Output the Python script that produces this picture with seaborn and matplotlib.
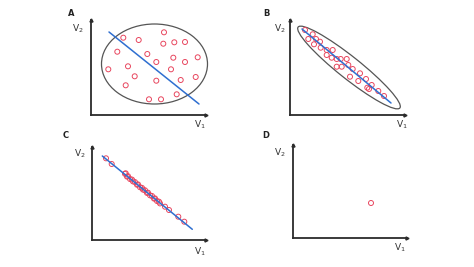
import matplotlib
matplotlib.use("Agg")
import matplotlib.pyplot as plt
from matplotlib.patches import Ellipse
import seaborn as sns

sns.set_style("white")
plt.rcParams['font.family'] = ['DejaVu Sans']

# ---------------- data (pixel-like units relative to each panel origin) ----------------
panel_labels = ["A", "B", "C", "D"]
x_label = "V$_1$"
y_label = "V$_2$"

a_x = [32.3, 47.7, 73, 72.3, 83.3, 94, 26.3, 56.3, 82.3, 106.7, 65.3, 94, 17.3, 37, 80,
       43.7, 65.3, 89.7, 104.7, 34.7, 85.7, 58, 70]
a_y = [77.3, 75, 82.7, 71.3, 72.7, 73, 63.3, 61, 57.3, 57.7, 53, 53, 45.7, 48.7, 45.7,
       38.7, 34.3, 35, 38, 29.7, 20.7, 15.7, 15.7]
a_line_x = [18, 108]
a_line_y = [83, 11]
a_ellipse = [63.5, 51, 106, 80, 0]          # cx, cy, width, height, angle

b_x = [15, 22.7, 18.3, 26, 30, 24, 30.7, 36.7, 42.7, 36.7, 41.7, 46.7, 50.7, 56.7, 51.7,
       46.7, 58.3, 62.7, 60, 70, 68.3, 76, 81.7, 77.3, 79, 88.3, 94]
b_y = [85, 80.7, 76, 76, 73.3, 70.7, 67.3, 65, 65, 60, 57.3, 56, 56, 56, 48.3,
       48.3, 50, 46, 38.3, 41.7, 34, 36, 30, 27.3, 26, 24, 19]
b_line_x = [12, 101]
b_line_y = [86, 12]
b_ellipse = [59, 47.5, 130, 22, -38.5]

c_x = [14, 19.7, 33.7, 33, 35, 36, 38, 40, 41, 43, 45, 46, 48, 50, 51, 53, 55, 56, 58,
       60, 62, 63, 65, 67, 68, 73, 77, 86.3, 92.3]
c_y = [81.7, 76, 66.7, 66.2, 63.4, 63.8, 61.0, 60.4, 58.6, 57.9, 55.3, 55.6, 52.8, 52.1,
       50.4, 49.7, 47.1, 47.3, 44.7, 44.0, 41.4, 41.6, 39.0, 38.3, 36.6, 33.3, 30, 23.3, 18.3]
c_line_x = [10.3, 100.3]
c_line_y = [84, 10.7]

d_x = [78]
d_y = [35]

# ---------------- layout ----------------
W, H = 474, 267
fig = plt.figure(figsize=(W / 100, H / 100), dpi=100)

# origin (px), x end (px), y top (px)
panels = [
    (91, 115, 206, 20),
    (290, 115, 405, 20),
    (92, 240, 206, 147),
    (293, 238, 407, 145),
]

RED = "#e8475f"
BLUE = "#2f6fd0"
AXC = "#2b2b2b"

axes = []
for (ox, oy, xe, yt) in panels:
    w = xe - ox
    h = oy - yt
    ax = fig.add_axes([ox / W, 1 - oy / H, w / W, h / H])
    ax.set_xlim(0, w)
    ax.set_ylim(0, h)
    for s in ["top", "right"]:
        ax.spines[s].set_visible(False)
    for s in ["left", "bottom"]:
        ax.spines[s].set_linewidth(1.3)
        ax.spines[s].set_color(AXC)
    ax.set_xticks([])
    ax.set_yticks([])
    ax.patch.set_alpha(0)
    ax.plot(1, 0, ">", color=AXC, ms=2.2, transform=ax.transAxes, clip_on=False)
    ax.plot(0, 1, "^", color=AXC, ms=2.2, transform=ax.transAxes, clip_on=False)
    axes.append(ax)

def scatter(ax, xs, ys):
    sns.scatterplot(x=xs, y=ys, ax=ax, s=13, marker="o", facecolors="none",
                    edgecolor=RED, linewidth=0.7, clip_on=False, zorder=3)

def line(ax, xs, ys):
    sns.lineplot(x=xs, y=ys, ax=ax, color=BLUE, linewidth=1.1, zorder=4)

def ellipse(ax, e):
    ax.add_patch(Ellipse((e[0], e[1]), e[2], e[3], angle=e[4], fill=False,
                         edgecolor="#555555", linewidth=0.9, clip_on=False, zorder=2))

# Panel A
ellipse(axes[0], a_ellipse)
scatter(axes[0], a_x, a_y)
line(axes[0], a_line_x, a_line_y)
# Panel B
ellipse(axes[1], b_ellipse)
scatter(axes[1], b_x, b_y)
line(axes[1], b_line_x, b_line_y)
# Panel C
scatter(axes[2], c_x, c_y)
line(axes[2], c_line_x, c_line_y)
# Panel D
scatter(axes[3], d_x, d_y)

# Text labels (figure pixel positions)
letter_pos = [(71, 14), (266, 14), (66, 136), (266, 136)]
v2_pos = [(78, 29), (280, 29), (80, 154), (280, 153)]
v1_pos = [(200, 125), (402, 125), (200, 252), (400, 248)]
for i in range(4):
    fig.text(letter_pos[i][0] / W, 1 - letter_pos[i][1] / H, panel_labels[i],
             fontsize=6, fontweight="bold", ha="center", va="center", color="#222222")
    fig.text(v2_pos[i][0] / W, 1 - v2_pos[i][1] / H, y_label,
             fontsize=6.5, ha="center", va="center", color="#333333")
    fig.text(v1_pos[i][0] / W, 1 - v1_pos[i][1] / H, x_label,
             fontsize=6.5, ha="center", va="center", color="#333333")

fig.savefig("out.png", dpi=100, facecolor="white")
